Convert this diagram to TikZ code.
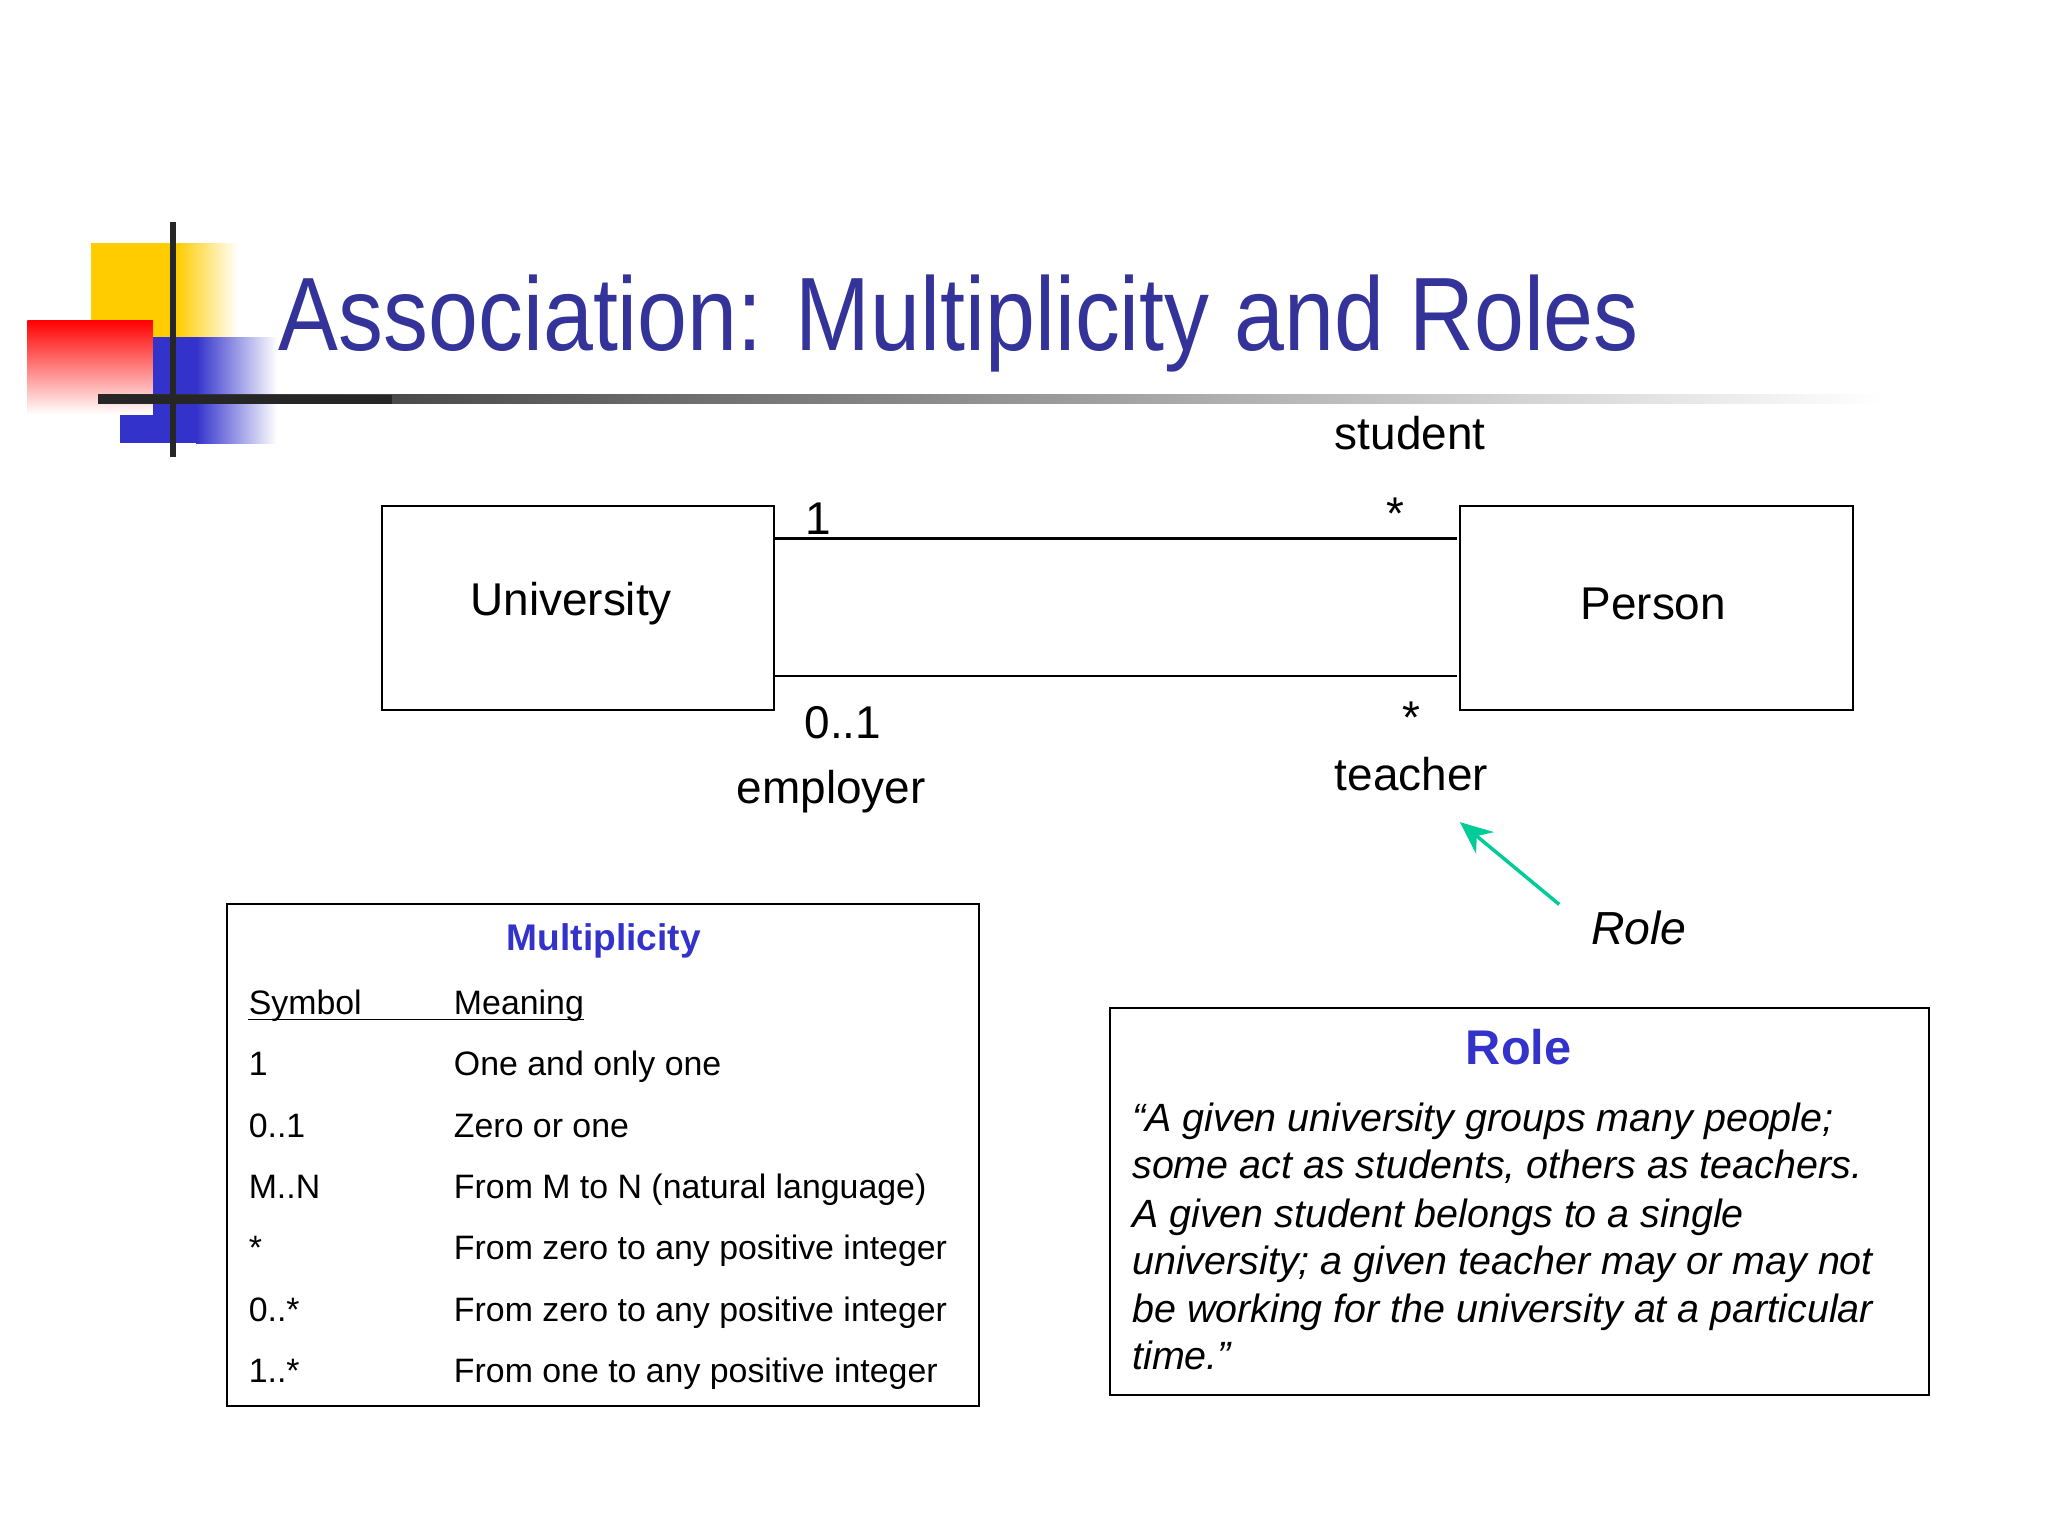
\documentclass[tikz,border=0pt]{standalone}
\usepackage{fontspec}
\setmainfont{Liberation Sans}
\usetikzlibrary{arrows.meta}
\begin{document}
\begin{tikzpicture}[x=0.0198cm,y=-0.0198cm,
  lbl/.style={font=\fontsize{19.8}{24}\selectfont,inner sep=0},
  tb/.style={font=\fontsize{14.6}{18}\selectfont,inner sep=0,anchor=base west},
  qt/.style={font=\fontsize{17}{20}\itshape,inner sep=0,anchor=base west}]
\definecolor{tblue}{HTML}{333399}
\definecolor{hblue}{HTML}{3333CC}
\definecolor{lyel}{HTML}{FFCC00}
\definecolor{lblu}{HTML}{3333CC}
\definecolor{agreen}{HTML}{00CC99}
\useasboundingbox (0,0) rectangle (1567,1175);
% logo
\fill[lyel] (70,186) rectangle (135,258);
\shade[left color=lyel,right color=white] (135,186) rectangle (182,258);
\fill[lblu] (92,258) rectangle (150,339);
\shade[left color=lblu,right color=white] (150,258) rectangle (212,339);
\shade[shading angle=45,top color=red,bottom color=white] (21,245) rectangle (117,317);
\shade[left color=black!85,right color=white] (75,302) rectangle (1440,309);
\fill[black!85] (75,302) rectangle (300,309);
\fill[black!85] (130,170) rectangle (135,350);
\node[anchor=base west,inner sep=0,text=tblue,font=\fontsize{45}{50}\selectfont,xscale=0.86,transform shape] (title) at (213,268) {Association: Multiplicity and Roles};
% classes
\draw[line width=0.9pt] (292,387) rectangle (592,543);
\draw[line width=0.9pt] (1117,387) rectangle (1418,543);
\node[lbl] (u) at (437,462) {University};
\node[lbl] (p) at (1265,462) {Person};
\coordinate (a1) at (593,412); \coordinate (a2) at (1115,412);
\coordinate (b1) at (593,517); \coordinate (b2) at (1115,517);
\draw[line width=0.9pt] (a1) -- (a2);
\draw[line width=0.9pt] (b1) -- (b2);
\node[lbl] (m1) at (626,397) {1};
\node[lbl] (m2) at (1068,393) {*};
\node[lbl] (st) at (1079,331) {student};
\node[lbl] (m3) at (645,553) {0..1};
\node[lbl] (m4) at (1080,549) {*};
\node[lbl] (emp) at (636,606) {employer};
\node[lbl] (tea) at (1080,592) {teacher};
\node[lbl,font=\fontsize{20}{24}\itshape] (role) at (1254,710) {Role};
\coordinate (ar1) at (1193,692); \coordinate (ar2) at (1117,629);
\draw[agreen,line width=1.5pt,-{Stealth[length=14pt,width=12pt]}] (ar1) -- (ar2);
% multiplicity table
\draw[line width=0.9pt] (174,692) rectangle (749,1076);
\node[inner sep=0,text=hblue,font=\fontsize{16}{20}\bfseries\selectfont] (mh) at (462,720) {Multiplicity};
\node[tb] (s0) at (190,776) {Symbol};
\node[tb] (s1) at (347,776) {Meaning};
\draw[line width=0.7pt] (190,780) -- (447,780);
\foreach \y/\s/\m in {823/1/One and only one,870/0..1/Zero or one,917/M..N/From M to N (natural language),964/*/From zero to any positive integer,1011/0..*/From zero to any positive integer,1058/1..*/From one to any positive integer}{
  \node[tb] at (190,\y) {\s};
  \node[tb] at (347,\y) {\m};
}
% role box
\draw[line width=0.9pt] (849,771) rectangle (1476,1067);
\node[inner sep=0,text=hblue,font=\fontsize{21}{26}\bfseries\selectfont] (rh) at (1162,801) {Role};
\foreach \y/\t in {866/{“A given university groups many people;},902/{some act as students, others as teachers.},939/{A given student belongs to a single},975/{university; a given teacher may or may not},1012/{be working for the university at a particular},1048/{time.”}}{
  \node[qt] at (866,\y) {\t};
}
\end{tikzpicture}
\end{document}
